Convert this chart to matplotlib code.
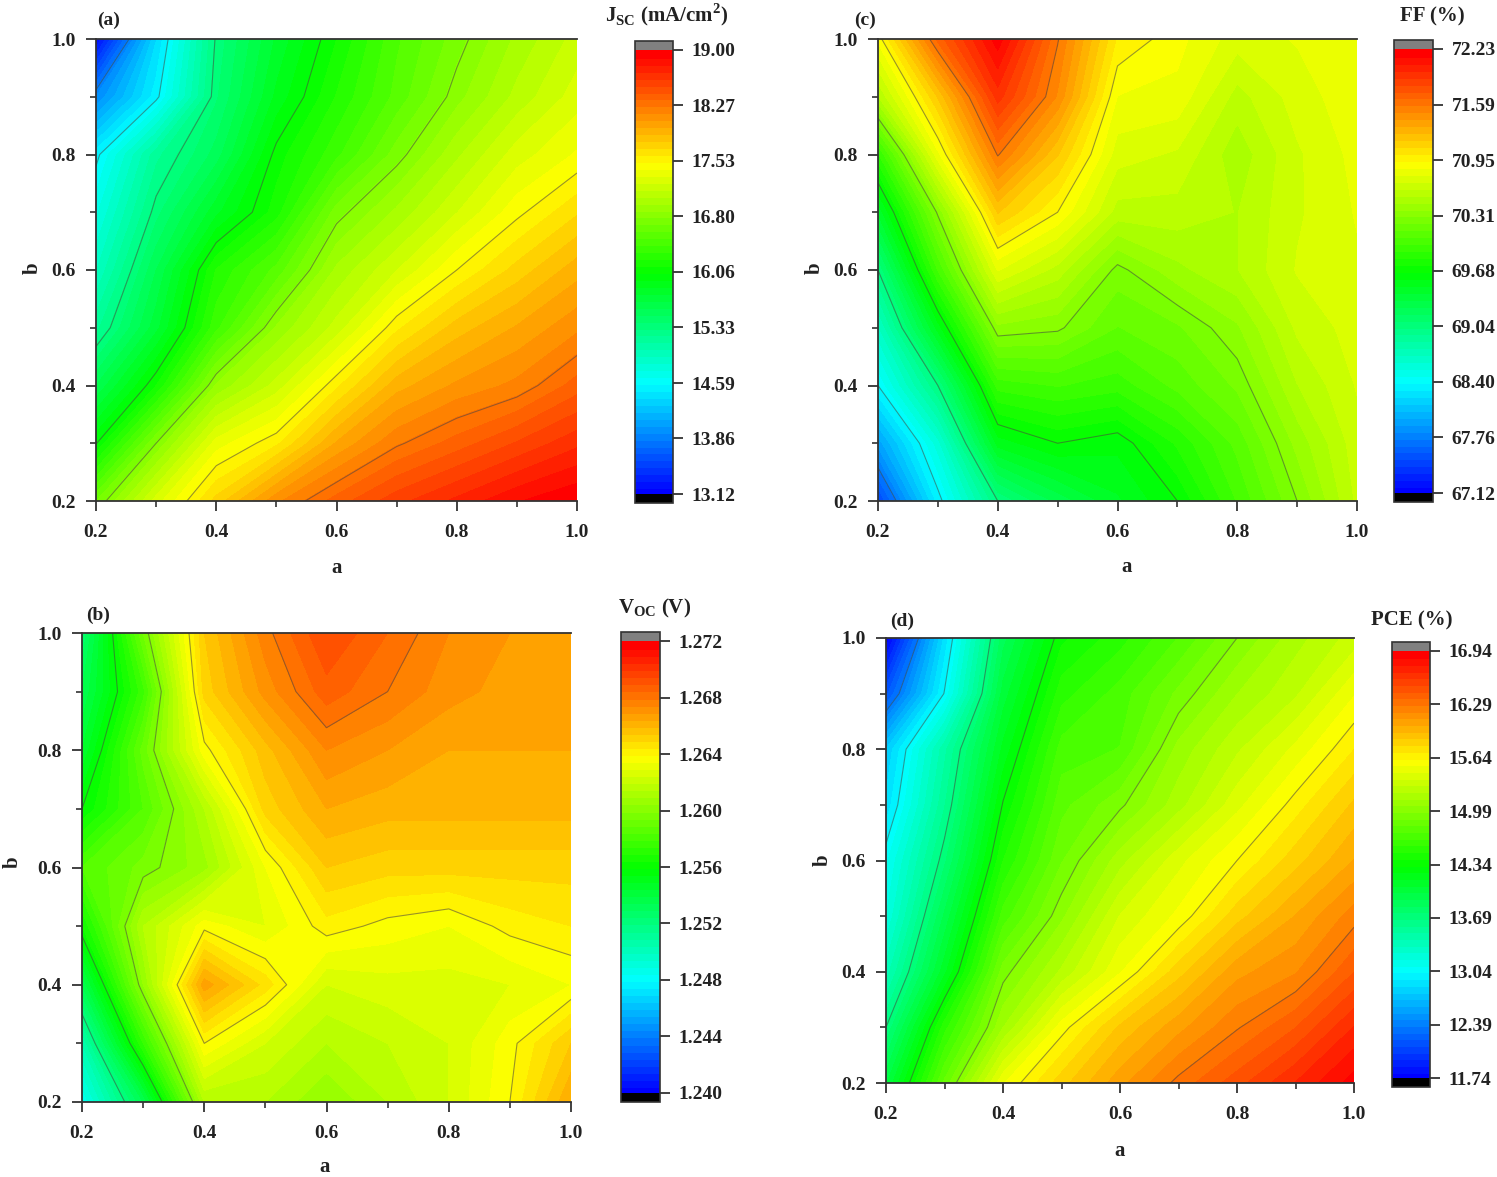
import numpy as np
import matplotlib
matplotlib.use("Agg")
import matplotlib.pyplot as plt
from matplotlib.colors import LinearSegmentedColormap, BoundaryNorm

plt.rcParams["font.family"] = "Liberation Serif"
plt.rcParams["font.weight"] = "bold"
plt.rcParams["mathtext.fontset"] = "custom"
plt.rcParams["mathtext.rm"] = "Liberation Serif:bold"
plt.rcParams["mathtext.bf"] = "Liberation Serif:bold"

W, H = 1497, 1177

grid_a = [0.2, 0.3, 0.4, 0.5, 0.6, 0.7, 0.8, 0.9, 1.0]
grid_b = [0.2, 0.3, 0.4, 0.5, 0.6, 0.7, 0.8, 0.9, 1.0]

# rows go from b=0.2 up to b=1.0
jsc = [
    [16.70, 17.30, 17.75, 18.15, 18.40, 18.60, 18.75, 18.90, 19.00],
    [16.05, 16.80, 17.39, 17.60, 18.00, 18.25, 18.40, 18.55, 18.70],
    [15.60, 16.15, 16.90, 17.20, 17.60, 17.95, 18.10, 18.20, 18.40],
    [15.20, 15.75, 16.40, 16.90, 17.20, 17.60, 17.85, 18.00, 18.15],
    [14.95, 15.60, 16.25, 16.55, 17.00, 17.25, 17.53, 17.75, 17.95],
    [14.75, 15.38, 15.85, 16.20, 16.75, 17.00, 17.25, 17.50, 17.70],
    [14.55, 15.20, 15.55, 16.10, 16.40, 16.75, 17.05, 17.30, 17.45],
    [13.95, 14.55, 15.40, 15.90, 16.25, 16.55, 16.85, 17.10, 17.30],
    [13.20, 14.40, 15.35, 15.80, 16.15, 16.50, 16.75, 17.00, 17.20],
]
voc = [
    [1.2485, 1.2535, 1.2615, 1.2615, 1.2605, 1.2615, 1.2625, 1.2640, 1.2665],
    [1.2505, 1.2575, 1.2640, 1.2625, 1.2615, 1.2620, 1.2625, 1.2638, 1.2655],
    [1.2535, 1.2605, 1.2668, 1.2648, 1.2625, 1.2628, 1.2628, 1.2630, 1.2635],
    [1.2565, 1.2615, 1.2638, 1.2630, 1.2643, 1.2638, 1.2635, 1.2642, 1.2645],
    [1.2585, 1.2597, 1.2608, 1.2635, 1.2655, 1.2652, 1.2652, 1.2652, 1.2652],
    [1.2560, 1.2585, 1.2615, 1.2652, 1.2665, 1.2662, 1.2662, 1.2662, 1.2662],
    [1.2545, 1.2592, 1.2638, 1.2658, 1.2675, 1.2670, 1.2665, 1.2665, 1.2665],
    [1.2535, 1.2578, 1.2652, 1.2672, 1.2688, 1.2680, 1.2672, 1.2668, 1.2668],
    [1.2525, 1.2595, 1.2655, 1.2678, 1.2695, 1.2685, 1.2675, 1.2670, 1.2670],
]
ff = [
    [67.50, 68.35, 69.04, 69.30, 69.50, 69.68, 70.00, 70.31, 70.65],
    [67.95, 68.60, 69.55, 69.68, 69.62, 69.85, 70.10, 70.42, 70.68],
    [68.40, 69.04, 69.95, 70.00, 69.95, 70.10, 70.25, 70.55, 70.72],
    [68.70, 69.55, 70.37, 70.33, 70.15, 70.22, 70.38, 70.65, 70.75],
    [69.04, 70.00, 70.80, 70.60, 70.28, 70.45, 70.55, 70.72, 70.78],
    [69.45, 70.33, 71.20, 70.95, 70.60, 70.60, 70.55, 70.70, 70.80],
    [69.90, 70.85, 71.60, 71.20, 70.75, 70.70, 70.50, 70.70, 70.82],
    [70.55, 71.20, 71.95, 71.50, 70.87, 70.85, 70.60, 70.75, 70.85],
    [70.90, 71.70, 72.20, 71.60, 71.02, 70.90, 70.75, 70.80, 70.85],
]
pce = [
    [14.00, 14.85, 15.55, 15.85, 16.10, 16.32, 16.50, 16.70, 16.90],
    [13.69, 14.55, 15.15, 15.60, 15.90, 16.10, 16.28, 16.45, 16.70],
    [13.40, 14.15, 14.95, 15.25, 15.55, 15.85, 16.10, 16.20, 16.45],
    [13.20, 13.95, 14.70, 15.05, 15.40, 15.58, 15.85, 16.05, 16.25],
    [13.10, 13.75, 14.50, 14.90, 15.20, 15.45, 15.64, 15.85, 16.05],
    [12.90, 13.60, 14.35, 14.80, 14.97, 15.20, 15.45, 15.68, 15.90],
    [12.80, 13.50, 14.20, 14.70, 14.75, 15.10, 15.30, 15.50, 15.72],
    [12.20, 13.05, 14.05, 14.55, 14.70, 14.93, 15.15, 15.30, 15.55],
    [11.75, 12.90, 13.90, 14.40, 14.55, 14.75, 14.99, 15.20, 15.35],
]

jsc_ticks = [13.12, 13.86, 14.59, 15.33, 16.06, 16.80, 17.53, 18.27, 19.00]
voc_ticks = [1.240, 1.244, 1.248, 1.252, 1.256, 1.260, 1.264, 1.268, 1.272]
ff_ticks = [67.12, 67.76, 68.40, 69.04, 69.68, 70.31, 70.95, 71.59, 72.23]
pce_ticks = [11.74, 12.39, 13.04, 13.69, 14.34, 14.99, 15.64, 16.29, 16.94]

axis_ticks = [0.2, 0.4, 0.6, 0.8, 1.0]
minor_ticks = [0.3, 0.5, 0.7, 0.9]

cmap = LinearSegmentedColormap.from_list(
    "rainbowish",
    ["#0000ff", "#00ffff", "#00ff00", "#ffff00", "#ff0000"],
    N=64,
)
cmap.set_over("#808080")
cmap.set_under("#000000")


def px_axes(fig, left, top, right, bottom):
    return fig.add_axes([left / W, 1 - bottom / H, (right - left) / W, (bottom - top) / H])


def draw_panel(fig, z, ticks, fmt, box, cbox, tag, tag_xy, title, title_xy, xlab_xy, ylab_xy):
    ax = px_axes(fig, *box)
    cax = px_axes(fig, *cbox)

    levels = np.linspace(ticks[0], ticks[-1], 65)
    norm = BoundaryNorm(levels, cmap.N)
    cf = ax.contourf(grid_a, grid_b, z, levels=levels, cmap=cmap, norm=norm, extend="both", antialiased=False)
    ax.contour(grid_a, grid_b, z, levels=ticks, colors="#444444", linewidths=0.8, alpha=0.55)

    ax.set_xlim(0.2, 1.0)
    ax.set_ylim(0.2, 1.0)
    ax.set_xticks(axis_ticks)
    ax.set_yticks(axis_ticks)
    ax.set_xticks(minor_ticks, minor=True)
    ax.set_yticks(minor_ticks, minor=True)
    ax.set_xticklabels([f"{t:.1f}" for t in axis_ticks])
    ax.set_yticklabels([f"{t:.1f}" for t in axis_ticks])
    ax.tick_params(axis="x", which="major", length=7.5, width=1.3, pad=9, labelsize=14, color="#333333", labelcolor="#222222")
    ax.tick_params(axis="y", which="major", length=7.5, width=1.3, pad=7, labelsize=14, color="#333333", labelcolor="#222222")
    ax.tick_params(which="minor", length=4.5, width=1.2, color="#333333")
    for s in ["top", "right"]:
        ax.spines[s].set_visible(False)
    for s in ["left", "bottom"]:
        ax.spines[s].set_linewidth(1.3)
        ax.spines[s].set_color("#333333")
    ax.plot([0.2, 1.0], [1.0, 1.0], color="#333333", lw=1.3, clip_on=False)

    cb = fig.colorbar(cf, cax=cax, extend="both", extendrect=True, extendfrac=0.02, spacing="proportional", ticks=ticks)
    cb.ax.set_yticklabels([fmt.format(t) for t in ticks])
    cb.ax.minorticks_off()
    cb.ax.tick_params(length=7.5, width=1.3, pad=6, labelsize=14, color="#333333", labelcolor="#222222")
    cb.outline.set_linewidth(1.2)
    cb.outline.set_edgecolor("#333333")
    cb.solids.set_edgecolor("face")

    fig.text(tag_xy[0] / W, 1 - tag_xy[1] / H, tag, fontsize=14, ha="center", va="center", color="#222222")
    fig.text(title_xy[0] / W, 1 - title_xy[1] / H, title, fontsize=15, ha="center", va="center", color="#222222")
    fig.text(xlab_xy[0] / W, 1 - xlab_xy[1] / H, "a", fontsize=15, ha="center", va="center", color="#222222")
    fig.text(ylab_xy[0] / W, 1 - ylab_xy[1] / H, "b", fontsize=15, ha="center", va="center", rotation=90, color="#222222")


fig = plt.figure(figsize=(W / 100, H / 100), dpi=100)

draw_panel(fig, jsc, jsc_ticks, "{:.2f}", (96, 39, 577, 501), (635, 41, 673, 503),
           "(a)", (109, 20), r"J$_{\mathrm{SC}}$ (mA/cm$^{\mathrm{2}}$)", (667, 15), (337, 568), (33, 268))
draw_panel(fig, voc, voc_ticks, "{:.3f}", (82, 633, 571, 1102), (621, 632, 660, 1102),
           "(b)", (98, 615), r"V$_{\mathrm{OC}}$ (V)", (655, 608), (325, 1167), (13, 862))
draw_panel(fig, ff, ff_ticks, "{:.2f}", (878, 39, 1357, 501), (1394, 40, 1433, 502),
           "(c)", (865, 20), "FF (%)", (1432, 16), (1127, 567), (815, 268))
draw_panel(fig, pce, pce_ticks, "{:.2f}", (886, 638, 1354, 1083), (1392, 642, 1430, 1087),
           "(d)", (902, 621), "PCE (%)", (1412, 620), (1120, 1151), (823, 860))

fig.savefig("out.png", dpi=100)
